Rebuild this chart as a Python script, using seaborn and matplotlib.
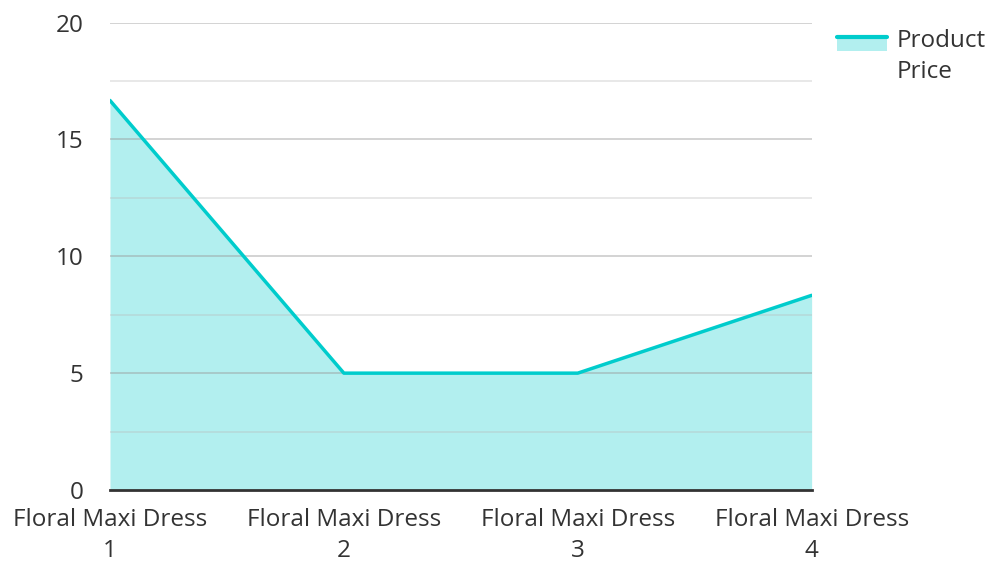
import pandas as pd
import seaborn as sns
import matplotlib.pyplot as plt
from matplotlib.patches import Rectangle
from matplotlib.lines import Line2D
from matplotlib.legend_handler import HandlerBase

# data
products = ["Floral Maxi Dress\n1", "Floral Maxi Dress\n2",
            "Floral Maxi Dress\n3", "Floral Maxi Dress\n4"]
prices = [16.67, 5, 5, 8.33]
y_ticks = [0, 5, 10, 15, 20]
series_name = "Product\nPrice"

line_col = "#00CCCC"
fill_col = "#B2EFEF"
text_col = "#333333"

sns.set_style("white")
plt.rcParams['font.family'] = ['Open Sans', 'DejaVu Sans']

df = pd.DataFrame({"pos": range(len(products)), "price": prices})

fig = plt.figure(figsize=(9.91, 5.61), dpi=100)
ax = fig.add_axes([0.111, 0.1266, 0.708, 0.833])

ax.fill_between(df["pos"], df["price"], 0, color=fill_col, lw=0, zorder=1)
sns.lineplot(data=df, x="pos", y="price", color=line_col, lw=2.5, ax=ax, zorder=3)

# gridlines: major every 5, minor at the half steps
for v in [5, 10, 15, 20]:
    ax.axhline(v, color="#999999", lw=1.2, alpha=0.5, zorder=2)
for v in [2.5, 7.5, 12.5, 17.5]:
    ax.axhline(v, color="#bbbbbb", lw=1.2, alpha=0.4, zorder=2)

ax.set_xlim(0, len(products) - 1)
ax.set_ylim(0, 20)
ax.set_xticks(df["pos"])
ax.set_xticklabels(products, fontsize=17.5, color=text_col, linespacing=1.38)
ax.set_yticks(y_ticks)
ax.set_yticklabels([str(t) for t in y_ticks], fontsize=17.5, color=text_col)
ax.tick_params(axis="both", length=0)
ax.tick_params(axis="y", pad=19)
ax.tick_params(axis="x", pad=13)
ax.set_xlabel("")
ax.set_ylabel("")

for s in ["top", "right", "left"]:
    ax.spines[s].set_visible(False)
ax.spines["bottom"].set_color("#333333")
ax.spines["bottom"].set_linewidth(2)
ax.spines["bottom"].set_zorder(4)


class AreaHandler(HandlerBase):
    def create_artists(self, legend, orig, xd, yd, width, height, fontsize, trans):
        shift = 0.5 * fontsize
        top = yd + height * 1.0 + shift
        bot = top - 0.6 * fontsize
        rect = Rectangle((xd, bot), width, top - bot,
                         facecolor=fill_col, lw=0, transform=trans)
        ln = Line2D([xd, xd + width], [top, top], color=line_col, lw=3, transform=trans)
        return [rect, ln]


handle = Rectangle((0, 0), 1, 1)
leg = fig.legend([handle], [series_name], handler_map={Rectangle: AreaHandler()},
                 loc="upper left", bbox_to_anchor=(0.845, 0.948), frameon=False,
                 borderpad=0, borderaxespad=0,
                 fontsize=17.5, handlelength=2.05, handletextpad=0.4, labelcolor=text_col)
leg.get_texts()[0].set_linespacing(1.4)

fig.savefig("out.png", dpi=100)
